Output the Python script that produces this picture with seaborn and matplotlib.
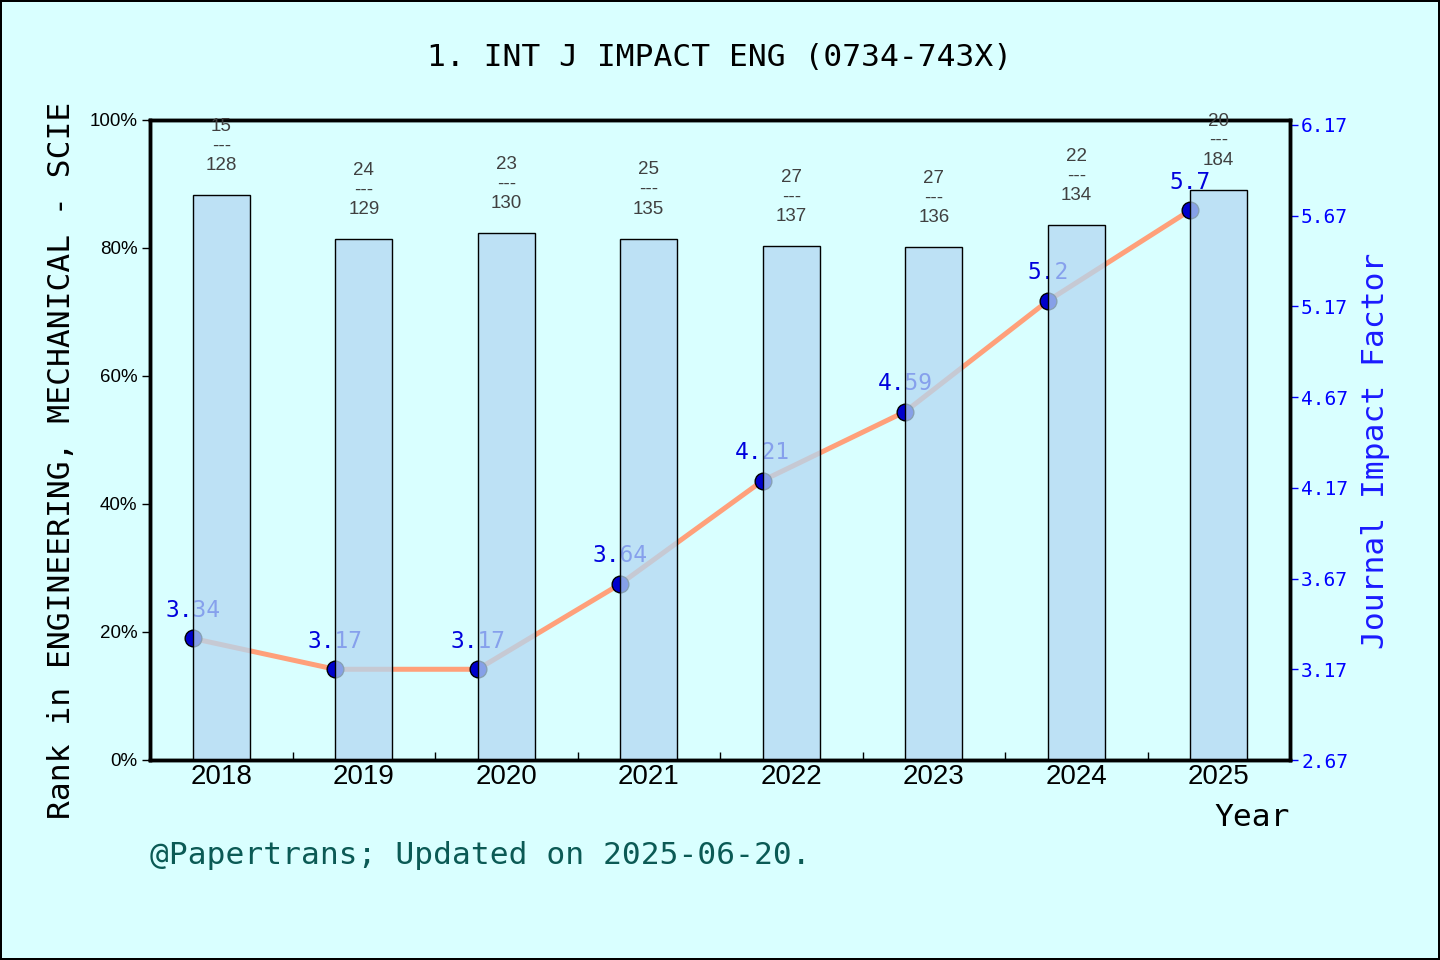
import numpy as np
import pandas as pd
import seaborn as sns
import matplotlib.pyplot as plt
from matplotlib.ticker import FixedLocator, PercentFormatter

years = ['2018', '2019', '2020', '2021', '2022', '2023', '2024', '2025']
ranks = [15, 24, 23, 25, 27, 27, 22, 20]
totals = [128, 129, 130, 135, 137, 136, 134, 184]
jif = [3.34, 3.17, 3.17, 3.64, 4.21, 4.59, 5.2, 5.7]
jif_ticks = [2.67, 3.17, 3.67, 4.17, 4.67, 5.17, 5.67, 6.17]

df = pd.DataFrame({'year': years, 'rank': ranks, 'total': totals, 'jif': jif})
df['pct'] = 100 * (1 - df['rank'] / df['total'])
df['pos'] = np.arange(len(df)) - 0.2

sns.set_style('ticks')
plt.rcParams['font.family'] = ['DejaVu Sans']
plt.rcParams['text.color'] = 'black'
plt.rcParams['xtick.color'] = 'black'
plt.rcParams['ytick.color'] = 'black'
mono = 'DejaVu Sans Mono'
sans = 'Liberation Sans'

bg = '#d9ffff'
fig = plt.figure(figsize=(14.4, 9.6), dpi=100, facecolor=bg)
fig.patch.set_edgecolor('black')
fig.patch.set_linewidth(1.5)
ax = fig.add_axes([150 / 1440, 1 - 760 / 960, 1140 / 1440, 640 / 960])
ax2 = ax.twinx()

# line on the twin axis, drawn below the bars
sns.lineplot(x=df['pos'], y=df['jif'], ax=ax2, color='#ffa07a', lw=3.6,
             marker='o', markersize=12, markerfacecolor='#0000cc',
             markeredgecolor='black', markeredgewidth=1)
for x, v in zip(df['pos'], df['jif']):
    ax2.annotate(str(v), (x, v), xytext=(0, 12), textcoords='offset points',
                 ha='center', va='bottom', color='#0000dd', fontsize=16.5,
                 family=mono)
ax2.set_ylim(2.67, 6.197)
ax2.yaxis.set_major_locator(FixedLocator(jif_ticks))
ax2.set_yticklabels([f'{t:.2f}' for t in jif_ticks], family=mono, fontsize=14,
                    color='#0000ff')
ax2.tick_params(axis='y', colors='#0000ff', length=6, width=1, pad=2)
ax2.set_ylabel('')
ax2.patch.set_facecolor('white')

sns.barplot(data=df, x='year', y='pct', ax=ax, width=0.4, color='#b1d5f1',
            saturation=1, edgecolor='black', linewidth=1)
for p in ax.patches:
    p.set_facecolor((180 / 255, 215 / 255, 242 / 255, 0.75))
    p.set_edgecolor('black')
for i, r in df.iterrows():
    ax.annotate(f"{r['rank']}\n---\n{r['total']}", (i, r['pct']),
                xytext=(0, 15), textcoords='offset points', ha='center',
                va='bottom', fontsize=13.5, color='#404040', family=sans,
                linespacing=1.2)

ax.set_zorder(ax2.get_zorder() + 1)
ax.patch.set_visible(False)
ax.set_xlim(-0.5, 7.5)
ax.set_ylim(0, 100)
ax.set_yticks([0, 20, 40, 60, 80, 100])
ax.yaxis.set_major_formatter(PercentFormatter(decimals=0))
ax.tick_params(axis='y', labelsize=13.5, length=6, width=1, pad=3)
for lab in ax.get_yticklabels():
    lab.set_family(sans)
ax.tick_params(axis='x', length=0, labelsize=20, pad=3)
for lab in ax.get_xticklabels():
    lab.set_family(sans)
ax.set_xticks(np.arange(len(years)) + 0.5, minor=True)
ax.tick_params(axis='x', which='minor', direction='in', length=6, width=1)
ax.set_xlabel('')
ax.set_ylabel('')

for a in (ax, ax2):
    for s in a.spines.values():
        s.set_visible(True)
        s.set_linewidth(2.5)
        s.set_color('black')

fig.text(0.5, 1 - 57 / 960, '1. INT J IMPACT ENG (0734-743X)', ha='center',
         va='center', fontsize=22.5, family=mono)
fig.text(62 / 1440, 1 - 460 / 960, 'Rank in ENGINEERING, MECHANICAL - SCIE',
         rotation=90, ha='center', va='center', fontsize=22.5, family=mono)
fig.text(1375 / 1440, 1 - 451 / 960, 'Journal Impact Factor', rotation=90,
         ha='center', va='center', fontsize=22.5, family=mono, color='#1a1aff')
fig.text(1290 / 1440, 1 - 818 / 960, 'Year', ha='right', va='center',
         fontsize=22.5, family=mono)
fig.text(150 / 1440, 1 - 855 / 960, '@Papertrans; Updated on 2025-06-20.',
         ha='left', va='center', fontsize=22.5, family=mono, color='#0b5a55')

fig.savefig('out.png', dpi=100, facecolor=bg, edgecolor='black')
